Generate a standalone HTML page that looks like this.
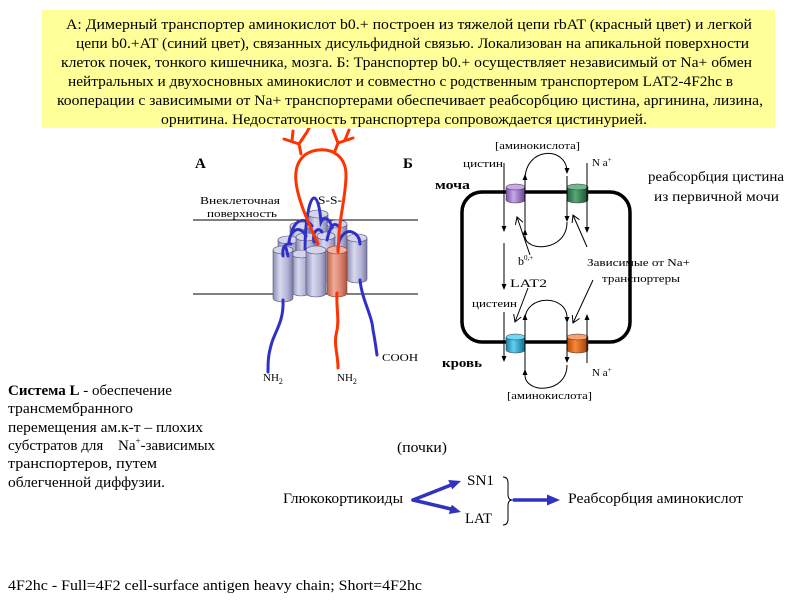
<!DOCTYPE html>
<html><head><meta charset="utf-8"><style>
html,body{margin:0;padding:0;background:#fff;}
svg{display:block;}
text{font-family:"Liberation Serif","DejaVu Serif",serif;fill:#000;}
</style></head><body>
<svg width="800" height="600" viewBox="0 0 800 600" xmlns="http://www.w3.org/2000/svg">
<defs>
<linearGradient id="lav" x1="0" x2="1" y1="0" y2="0">
<stop offset="0" stop-color="#8a8ab2"/><stop offset="0.35" stop-color="#d8d8ef"/><stop offset="0.7" stop-color="#b6b6d6"/><stop offset="1" stop-color="#7c7ca6"/>
</linearGradient>
<linearGradient id="redg" x1="0" x2="1" y1="0" y2="0">
<stop offset="0" stop-color="#b86450"/><stop offset="0.35" stop-color="#f2aa98"/><stop offset="0.7" stop-color="#d88270"/><stop offset="1" stop-color="#a85444"/>
</linearGradient>
<linearGradient id="pur" x1="0" x2="1"><stop offset="0" stop-color="#7a50a8"/><stop offset="0.4" stop-color="#c8a8e8"/><stop offset="1" stop-color="#6a4098"/></linearGradient>
<linearGradient id="grn" x1="0" x2="1"><stop offset="0" stop-color="#1e6038"/><stop offset="0.4" stop-color="#58a878"/><stop offset="1" stop-color="#184e2e"/></linearGradient>
<linearGradient id="cyn" x1="0" x2="1"><stop offset="0" stop-color="#1a7ea8"/><stop offset="0.4" stop-color="#60d0f0"/><stop offset="1" stop-color="#126a90"/></linearGradient>
<linearGradient id="org" x1="0" x2="1"><stop offset="0" stop-color="#b84808"/><stop offset="0.4" stop-color="#f88838"/><stop offset="1" stop-color="#a03c04"/></linearGradient>
</defs>

<!-- red antlers (under yellow box) -->
<g stroke="#ff3300" stroke-width="3" fill="none" stroke-linecap="round" stroke-linejoin="round">
<path d="M301,154 L299,144 L284,139 M299,144 L307,132 M292,141 L293,131 M307,132 L311,124"/>
<path d="M335,151 L338,143 L353,138 M338,143 L333,130 M345,140 L349,130"/>
</g>

<!-- yellow box -->
<rect x="42" y="10" width="733" height="118" fill="#ffff99"/>
<g font-size="15">
<text x="66" y="29" textLength="686" lengthAdjust="spacingAndGlyphs">А: Димерный транспортер аминокислот b0.+ построен из тяжелой цепи rbAT (красный цвет)  и легкой</text>
<text x="76" y="48" textLength="673" lengthAdjust="spacingAndGlyphs">цепи b0.+AT (синий цвет), связанных дисульфидной связью. Локализован на апикальной поверхности</text>
<text x="61" y="67" textLength="691" lengthAdjust="spacingAndGlyphs">клеток почек, тонкого кишечника, мозга. Б: Транспортер b0.+ осуществляет независимый от Na+ обмен</text>
<text x="68" y="86" textLength="665" lengthAdjust="spacingAndGlyphs">нейтральных и двухосновных аминокислот и совместно с родственным транспортером LAT2-4F2hc в</text>
<text x="57" y="105" textLength="706" lengthAdjust="spacingAndGlyphs">кооперации с зависимыми от Na+ транспортерами обеспечивает реабсорбцию цистина, аргинина, лизина,</text>
<text x="161" y="124" textLength="486" lengthAdjust="spacingAndGlyphs">орнитина. Недостаточность транспортера сопровождается цистинурией.</text>
</g>

<!-- Panel A -->
<text x="195" y="168" font-size="15" font-weight="bold">А</text>
<text x="403" y="168" font-size="15" font-weight="bold">Б</text>
<text x="200" y="204" font-size="11" textLength="80" lengthAdjust="spacingAndGlyphs">Внеклеточная</text>
<text x="207" y="217" font-size="11" textLength="70" lengthAdjust="spacingAndGlyphs">поверхность</text>
<text x="318" y="204" font-size="12" textLength="24" lengthAdjust="spacingAndGlyphs" font-family="Liberation Sans, sans-serif">S-S-</text>
<line x1="193" y1="220" x2="418" y2="220" stroke="#000" stroke-width="1"/>
<line x1="193" y1="294" x2="418" y2="294" stroke="#000" stroke-width="1"/>

<g stroke="#55557a" stroke-width="0.6">
<path d="M308,214 L308,262 A10,4 0 0 0 328,262 L328,214 Z" fill="url(#lav)"/><ellipse cx="318" cy="214" rx="10" ry="4" fill="#d4d4ec"/>
<path d="M290,226 L290,268 A10,4 0 0 0 310,268 L310,226 Z" fill="url(#lav)"/><ellipse cx="300" cy="226" rx="10" ry="4" fill="#d4d4ec"/>
<path d="M327,224 L327,266 A10,4 0 0 0 347,266 L347,224 Z" fill="url(#lav)"/><ellipse cx="337" cy="224" rx="10" ry="4" fill="#d4d4ec"/>
<path d="M278,240 L278,282 A10,4 0 0 0 298,282 L298,240 Z" fill="url(#lav)"/><ellipse cx="288" cy="240" rx="10" ry="4" fill="#d4d4ec"/>
<path d="M296,237 L296,280 A10,4 0 0 0 316,280 L316,237 Z" fill="url(#lav)"/><ellipse cx="306" cy="237" rx="10" ry="4" fill="#d4d4ec"/>
<path d="M317,236 L317,278 A9,4 0 0 0 335,278 L335,236 Z" fill="url(#lav)"/><ellipse cx="326" cy="236" rx="9" ry="4" fill="#d4d4ec"/>
<path d="M347,238 L347,279 A10,4 0 0 0 367,279 L367,238 Z" fill="url(#lav)"/><ellipse cx="357" cy="238" rx="10" ry="4" fill="#d4d4ec"/>
<path d="M292,254 L292,292 A9,4 0 0 0 310,292 L310,254 Z" fill="url(#lav)"/><ellipse cx="301" cy="254" rx="9" ry="4" fill="#d4d4ec"/>
<path d="M273,250 L273,298 A10,4 0 0 0 293,298 L293,250 Z" fill="url(#lav)"/><ellipse cx="283" cy="250" rx="10" ry="4" fill="#d4d4ec"/>
<path d="M306,250 L306,293 A10,4 0 0 0 326,293 L326,250 Z" fill="url(#lav)"/><ellipse cx="316" cy="250" rx="10" ry="4" fill="#d4d4ec"/>
<path d="M327,250 L327,293 A10,4 0 0 0 347,293 L347,250 Z" fill="url(#redg)" stroke="#8a4030"/><ellipse cx="337" cy="250" rx="10" ry="4" fill="#f4b0a0" stroke="#8a4030"/>
</g>

<!-- blue loops -->
<g stroke="#3030c8" stroke-width="3" fill="none" stroke-linecap="round">
<path d="M283,256 C282,247 285,243 291,244"/>
<path d="M286,248 L288,256"/>
<path d="M289,244 C289,230 300,224 306,236"/>
<path d="M292,232 C295,220 305,216 312,226"/>
<path d="M305,249 C305,225 309,198 314,198 C318,198 320,210 321,222 C324,216 330,218 332,228"/>
<path d="M338,250 C338,236 346,230 352,232 C358,234 360,240 360,244"/>
<path d="M327,240 C330,226 334,222 338,226"/>
<path d="M314,242 C312,232 318,226 322,232"/>
<path d="M283,300 C284,320 276,330 272,342 C268,355 268,362 268,372"/>
<path d="M360,280 C362,300 372,315 373,330 C375,340 376,348 377,355"/>
</g>
<g stroke="#ff3300" stroke-width="3" fill="none" stroke-linecap="round">
<path d="M318,244 C308,222 298,200 296,182 C294,164 302,152 318,150 C334,148 346,158 346,175 C346,195 340,215 339,235 L338,252"/>
<path d="M337,293 C336,310 340,320 336,335 C334,345 338,355 338,368"/>
</g>

<text x="263" y="381" font-size="11">NH<tspan font-size="8" dy="3">2</tspan></text>
<text x="337" y="381" font-size="11">NH<tspan font-size="8" dy="3">2</tspan></text>
<text x="382" y="361" font-size="11" font-family="Liberation Sans, sans-serif" textLength="36" lengthAdjust="spacingAndGlyphs">COOH</text>

<!-- Panel B -->
<text x="495" y="149" font-size="11" textLength="85" lengthAdjust="spacingAndGlyphs">[аминокислота]</text>
<text x="463" y="167" font-size="11" textLength="40" lengthAdjust="spacingAndGlyphs">цистин</text>
<text x="592" y="166" font-size="11">N a<tspan font-size="7" dy="-4">+</tspan></text>
<text x="435" y="189" font-size="13" font-weight="bold" textLength="35" lengthAdjust="spacingAndGlyphs">моча</text>
<text x="648" y="181" font-size="14" textLength="136" lengthAdjust="spacingAndGlyphs">реабсорбция цистина</text>
<text x="654" y="201" font-size="14" textLength="125" lengthAdjust="spacingAndGlyphs">из первичной мочи</text>

<rect x="462" y="192" width="168" height="150" rx="20" ry="20" fill="none" stroke="#000" stroke-width="3.5"/>

<g stroke="#333" stroke-width="0.5">
<path d="M506,187 L506,200 A9.5,3 0 0 0 525,200 L525,187 Z" fill="url(#pur)"/><ellipse cx="515.5" cy="187" rx="9.5" ry="3" fill="#c8a8e8"/>
<path d="M567,187 L567,200 A10.5,3 0 0 0 588,200 L588,187 Z" fill="url(#grn)"/><ellipse cx="577.5" cy="187" rx="10.5" ry="3" fill="#70b890"/>
<path d="M506,337 L506,350 A9.5,3 0 0 0 525,350 L525,337 Z" fill="url(#cyn)"/><ellipse cx="515.5" cy="337" rx="9.5" ry="3" fill="#70d8f4"/>
<path d="M567,337 L567,350 A10.5,3 0 0 0 588,350 L588,337 Z" fill="url(#org)"/><ellipse cx="577.5" cy="337" rx="10.5" ry="3" fill="#f8a070"/>
</g>

<g stroke="#000" stroke-width="1" fill="none">
<line x1="504" y1="163" x2="504" y2="228"/>
<line x1="504" y1="243" x2="504" y2="286"/>
<line x1="504" y1="312" x2="504" y2="358"/>
<line x1="525" y1="178" x2="525" y2="240"/>
<line x1="567" y1="176" x2="567" y2="218"/>
<line x1="587" y1="163" x2="587" y2="229"/>
<path d="M525,180 C525,146 567,146 567,172"/>
<path d="M567,222 C567,252 525,252 525,236"/>
<line x1="525" y1="318" x2="525" y2="372"/>
<line x1="567" y1="322" x2="567" y2="358"/>
<line x1="587" y1="318" x2="587" y2="363"/>
<path d="M525,320 C525,294 567,294 567,318"/>
<path d="M567,365 C567,394 525,394 525,375"/>
<path d="M530,255 L517,217 M515.4,224.9 L517,217 L523,222.3"/>
<path d="M587,247 L573,215 M572.1,222.9 L573,215 L579.4,219.7"/>
<path d="M528,288 L515,322 M521.2,317 L515,322 L513.7,314.1"/>
<path d="M593,280 L573,323 M579.6,318.4 L573,323 L572.3,315"/>
</g>
<g fill="#000">
<polygon points="501.5,226 506.5,226 504,232"/>
<polygon points="501.5,284 506.5,284 504,290"/>
<polygon points="501.5,356 506.5,356 504,362"/>
<polygon points="522.5,180 527.5,180 525,174"/>
<polygon points="522.5,235 527.5,235 525,229"/>
<polygon points="564.5,168 569.5,168 567,174"/>
<polygon points="564.5,216 569.5,216 567,222"/>
<polygon points="584.5,227 589.5,227 587,233"/>
<polygon points="522.5,320 527.5,320 525,314"/>
<polygon points="522.5,375 527.5,375 525,369"/>
<polygon points="564.5,317 569.5,317 567,323"/>
<polygon points="564.5,357 569.5,357 567,363"/>
<polygon points="584.5,320 589.5,320 587,314"/>
</g>

<text x="518" y="265" font-size="12">b<tspan font-size="7" dy="-5">0,+</tspan></text>
<text x="510" y="287" font-size="12" textLength="37" lengthAdjust="spacingAndGlyphs">LAT2</text>
<text x="587" y="266" font-size="11" textLength="103" lengthAdjust="spacingAndGlyphs">Зависимые от Na+</text>
<text x="602" y="282" font-size="11" textLength="78" lengthAdjust="spacingAndGlyphs">транспортеры</text>
<text x="472" y="307" font-size="11" textLength="45" lengthAdjust="spacingAndGlyphs">цистеин</text>
<text x="442" y="367" font-size="13" font-weight="bold" textLength="40" lengthAdjust="spacingAndGlyphs">кровь</text>
<text x="592" y="376" font-size="11">N a<tspan font-size="7" dy="-4">+</tspan></text>
<text x="507" y="399" font-size="11" textLength="85" lengthAdjust="spacingAndGlyphs">[аминокислота]</text>

<g font-size="15">
<text x="8" y="395"><tspan font-weight="bold">Система L</tspan> - обеспечение</text>
<text x="8" y="413" textLength="125" lengthAdjust="spacingAndGlyphs">трансмембранного</text>
<text x="8" y="432" textLength="195" lengthAdjust="spacingAndGlyphs">перемещения ам.к-т – плохих</text>
<text x="8" y="450">субстратов для</text>
<text x="118" y="450">Na<tspan font-size="9" dy="-6">+</tspan><tspan dy="6">-зависимых</tspan></text>
<text x="8" y="468" textLength="149" lengthAdjust="spacingAndGlyphs">транспортеров,  путем</text>
<text x="8" y="487" textLength="157" lengthAdjust="spacingAndGlyphs">облегченной диффузии.</text>
<text x="8" y="590" textLength="414" lengthAdjust="spacingAndGlyphs">4F2hc  -  Full=4F2 cell-surface antigen heavy chain; Short=4F2hc</text>
</g>

<g font-size="15">
<text x="397" y="452" textLength="50" lengthAdjust="spacingAndGlyphs">(почки)</text>
<text x="283" y="503" textLength="120" lengthAdjust="spacingAndGlyphs">Глюкокортикоиды</text>
<text x="467" y="485" textLength="27" lengthAdjust="spacingAndGlyphs">SN1</text>
<text x="465" y="523" textLength="27" lengthAdjust="spacingAndGlyphs">LAT</text>
<text x="568" y="503" textLength="175" lengthAdjust="spacingAndGlyphs">Реабсорбция аминокислот</text>
</g>
<g stroke="#3232c0" stroke-width="3.5" stroke-linecap="round">
<line x1="413" y1="500" x2="451" y2="485"/>
<line x1="413" y1="500" x2="451" y2="509"/>
<line x1="514" y1="500" x2="549" y2="500"/>
</g>
<g fill="#3232c0">
<polygon points="452.2,489.4 448.2,480 461,481"/>
<polygon points="448.8,514 451.8,504.7 461,512"/>
<polygon points="547,494.5 547,505.5 560,500"/>
</g>
<path d="M503,477 Q508,477 508,483 L508,494 Q508,500 512,500 Q508,500 508,506 L508,519 Q508,525 503,525" fill="none" stroke="#000" stroke-width="1"/>
</svg>
</body></html>
